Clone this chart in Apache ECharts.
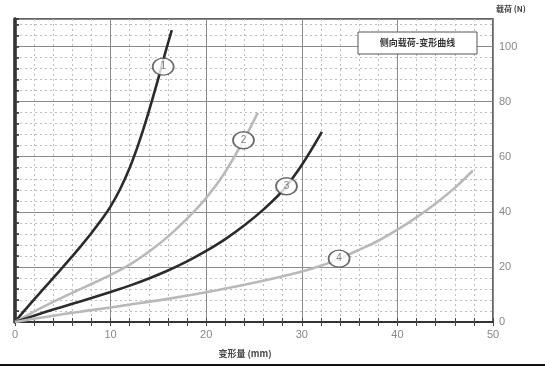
<!DOCTYPE html>
<html><head><meta charset="utf-8">
<script src="https://cdn.jsdelivr.net/npm/echarts@6/dist/echarts.min.js"></script>
<style>html,body{margin:0;padding:0;background:#fff}#c{width:545px;height:368px}</style>
</head><body><div id="c"></div>
<script>
const xTicks = [0, 10, 20, 30, 40, 50];
const yTicks = [0, 20, 40, 60, 80, 100];
const curve1 = [[0,0],[1,4.2],[2,8.2],[3,12.1],[4,16],[5,19.9],[6,23.9],[7,28],[8,32.3],[9,36.9],[10,42],[11,48.3],[12,56],[13,65.5],[14,76.5],[15,88.5],[15.7,97.5],[16.4,106]];
const curve2 = [[0,0],[2,3.8],[4,7.3],[6,10.6],[8,13.8],[10,17.1],[12,20.8],[14,25.5],[16,31],[18,37.5],[20,45],[22,54.5],[24,66.5],[25.4,76]];
const curve3 = [[0,0],[2,2.3],[4,4.5],[6,6.6],[8,8.7],[10,10.9],[12,13.2],[14,15.8],[16,18.7],[18,22],[20,25.8],[22,30.1],[24,35.1],[26,40.9],[28,47.7],[30,57],[32.1,69]];
const curve4 = [[0,0],[4,2.3],[8,4.3],[12,6.3],[16,8.4],[20,10.8],[24,13.5],[28,16.6],[30,18.3],[32,20.4],[34,23.1],[36,26.2],[38,29.5],[40,33.5],[42,38],[44,43],[46,48.7],[47.9,55]];
const curveLabels = [[15.5,92.7,'1'],[23.9,66,'2'],[28.4,49.3,'3'],[33.9,23,'4']];
const title = '侧向载荷-变形曲线';
const xName = '变形量 (mm)';
const yName = '载荷 (N)';

const chart = echarts.init(document.getElementById('c'), null, {renderer:'canvas'});
const dark = '#2b2b2b', light = '#b9b9b9';
function lineSeries(d, color){
  return {type:'line', data:d, smooth:0.35, showSymbol:false, symbol:'none',
    lineStyle:{color:color, width:2.6}, z:3, xAxisIndex:0, yAxisIndex:0};
}
const minorSplit = {show:true, lineStyle:{color:'#bdbdbd', type:[2,3], width:1}};
chart.setOption({
  animation:false,
  backgroundColor:'#fff',
  grid:{left:15, right:52, top:19, bottom:46, show:true, borderColor:'#333', borderWidth:1.5},
  xAxis:[{
    type:'value', min:0, max:50, interval:10, position:'bottom',
    name:xName, nameLocation:'middle', nameGap:27,
    nameTextStyle:{fontFamily:'Noto Sans CJK SC', fontSize:9, fontWeight:'bold', color:'#444', padding:[0,18,0,0]},
    axisLine:{show:true, lineStyle:{color:'#333', width:2}},
    axisTick:{show:true, inside:true, length:4, lineStyle:{color:'#444'}},
    minorTick:{show:true, splitNumber:5, length:4, lineStyle:{color:'#444'}},
    axisLabel:{color:'#888', fontSize:11, fontFamily:'Liberation Sans', margin:7,
      formatter:v=>xTicks.includes(v)?String(v):''},
    splitLine:{show:true, lineStyle:{color:'#8a8a8a', width:1}},
    minorSplitLine:minorSplit
  },{
    type:'value', min:0, max:50, interval:10, position:'top',
    axisLine:{show:true, lineStyle:{color:'#333', width:2}},
    axisTick:{show:true, inside:true, length:4, lineStyle:{color:'#444'}},
    minorTick:{show:true, splitNumber:5, length:4, lineStyle:{color:'#444'}},
    axisLabel:{show:false}, splitLine:{show:false}
  }],
  yAxis:[{
    type:'value', min:0, max:110, interval:20, position:'right',
    axisLine:{show:true, lineStyle:{color:'#222', width:3.5}},
    axisTick:{show:true, inside:false, length:4, lineStyle:{color:'#333', width:1.5}},
    minorTick:{show:true, splitNumber:5, length:4, lineStyle:{color:'#333', width:1.5}},
    axisLabel:{color:'#888', fontSize:11, fontFamily:'Liberation Sans', margin:6, showMaxLabel:false,
      formatter:v=>yTicks.includes(v)?String(v):''},
    splitLine:{show:true, lineStyle:{color:'#8a8a8a', width:1}},
    minorSplitLine:minorSplit
  },{
    type:'value', min:0, max:110, interval:20, position:'left',
    axisLine:{show:true, lineStyle:{color:'#333', width:2}},
    axisTick:{show:true, inside:true, length:4, lineStyle:{color:'#444'}},
    minorTick:{show:true, splitNumber:5, length:4, lineStyle:{color:'#444'}},
    axisLabel:{show:false}, splitLine:{show:false}
  }],
  series:[
    lineSeries(curve1, dark), lineSeries(curve2, light), lineSeries(curve3, dark), lineSeries(curve4, light),
    {type:'scatter', xAxisIndex:0, yAxisIndex:0, z:5,
     data:curveLabels.map(p=>({value:[p[0],p[1]], name:p[2]})),
     symbol:'circle', symbolSize:[21,17],
     itemStyle:{color:'#fff', borderColor:'#444', borderWidth:1.6},
     label:{show:true, position:'inside', formatter:p=>p.name, color:'#666', fontSize:10, fontFamily:'Liberation Sans'}}
  ],
  graphic:[
    {type:'rect', shape:{x:358, y:32, width:119, height:22}, style:{fill:'#fff', stroke:'#555', lineWidth:1}, z:10},
    {type:'text', x:417.5, y:43, style:{text:title, fill:'#333', font:'bold 9px "Noto Sans CJK SC"', textAlign:'center', textVerticalAlign:'middle'}, z:11},
    {type:'text', x:496, y:9, style:{text:yName, fill:'#444', font:'bold 8px "Noto Sans CJK SC"', textAlign:'left', textVerticalAlign:'middle'}, z:11},
    {type:'line', shape:{x1:0, y1:365, x2:545, y2:365}, style:{stroke:'#111', lineWidth:2}, z:10}
  ]
});
</script></body></html>
